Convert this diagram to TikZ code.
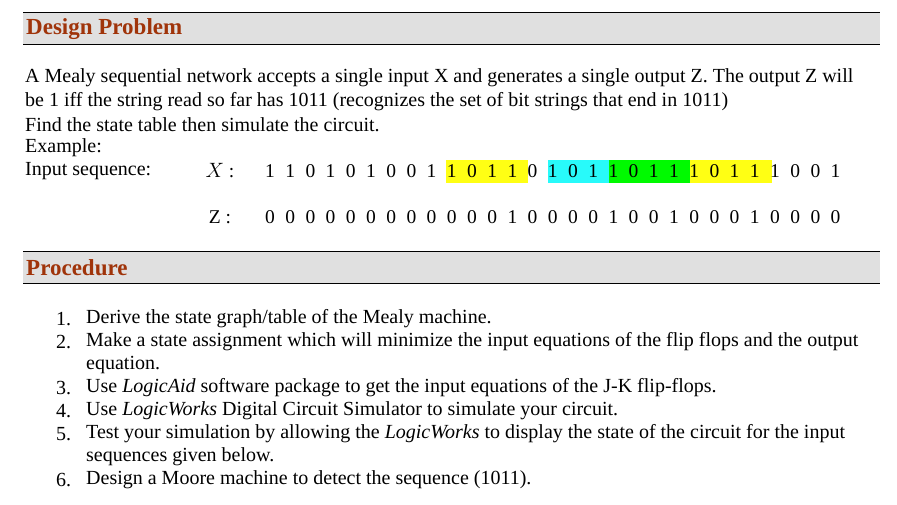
\documentclass[tikz,border=0pt]{standalone}
\usepackage{fontspec}
\setmainfont{Liberation Serif}
\definecolor{headred}{RGB}{160,52,10}
\definecolor{headgray}{RGB}{224,224,224}
\definecolor{hlyellow}{RGB}{255,255,20}
\definecolor{hlcyan}{RGB}{40,250,250}
\definecolor{hlgreen}{RGB}{0,250,0}
\tikzset{
  headbar/.style={fill=headgray},
  headtext/.style={anchor=west,inner sep=0pt,text=headred,font=\fontsize{23}{26}\selectfont\bfseries},
  bodytext/.style={anchor=west,inner sep=0pt,font=\fontsize{20}{23}\selectfont},
  bit/.style={inner sep=0pt,font=\fontsize{19.5}{23}\selectfont}
}
\begin{document}
\begin{tikzpicture}[x=1pt,y=-1pt]
\useasboundingbox (0,0) rectangle (897,504);
% headings
\fill[headbar] (23,12) rectangle (880,44);
\draw[line width=1pt] (23,12) -- (880,12) (23,44) -- (880,44);
\node[headtext] (design) at (26,29) {Design Problem};
\fill[headbar] (23,251) rectangle (880,283);
\draw[line width=1pt] (23,251) -- (880,251) (23,283) -- (880,283);
\node[headtext] (proc) at (26,268) {Procedure};
% problem text
\node[bodytext] (l1) at (25,78) {A Mealy sequential network accepts a single input X and generates a single output Z. The output Z will};
\node[bodytext] (l2) at (25,102) {be 1 iff the string read so far has 1011 (recognizes the set of bit strings that end in 1011)};
\node[bodytext] (l3) at (25,125) {Find the state table then simulate the circuit.};
\node[bodytext] (l4) at (25,148) {Example:};
\node[bodytext] (l5) at (25,171) {Input sequence:};
% highlights
\fill[hlyellow] (446,160) rectangle (528,183);
\fill[hlcyan] (548,160) rectangle (609,183);
\fill[hlgreen] (609,160) rectangle (690,183);
\fill[hlyellow] (690,160) rectangle (772,183);
\node[bit] (xlab) at (220,171) {$X$ :};
\node[bit] (zlab) at (220,217) {Z :};
\foreach \b [count=\i] in {1,1,0,1,0,1,0,0,1,1,0,1,1,0,1,0,1,1,0,1,1,1,0,1,1,1,0,0,1}
  \node[bit] (x\i) at ({270+(\i-1)*20.2},171) {\b};
\foreach \b [count=\i] in {0,0,0,0,0,0,0,0,0,0,0,0,1,0,0,0,0,1,0,0,1,0,0,0,1,0,0,0,0}
  \node[bit] (z\i) at ({270+(\i-1)*20.2},217) {\b};
% procedure list
\foreach \n/\y in {1/319,2/342,3/388,4/411,5/434,6/480}
  \node[bodytext] (n\n) at (56,\y) {\n.};
\node[bodytext] (p1) at (86,319) {Derive the state graph/table of the Mealy machine.};
\node[bodytext] (p2) at (86,342) {Make a state assignment which will minimize the input equations of the flip flops and the output};
\node[bodytext] (p2b) at (86,365) {equation.};
\node[bodytext] (p3) at (86,388) {Use \textit{LogicAid} software package to get the input equations of the J-K flip-flops.};
\node[bodytext] (p4) at (86,411) {Use \textit{LogicWorks} Digital Circuit Simulator to simulate your circuit.};
\node[bodytext] (p5) at (86,434) {Test your simulation by allowing the \textit{LogicWorks} to display the state of the circuit for the input};
\node[bodytext] (p5b) at (86,457) {sequences given below.};
\node[bodytext] (p6) at (86,480) {Design a Moore machine to detect the sequence (1011).};
\end{tikzpicture}
\end{document}
